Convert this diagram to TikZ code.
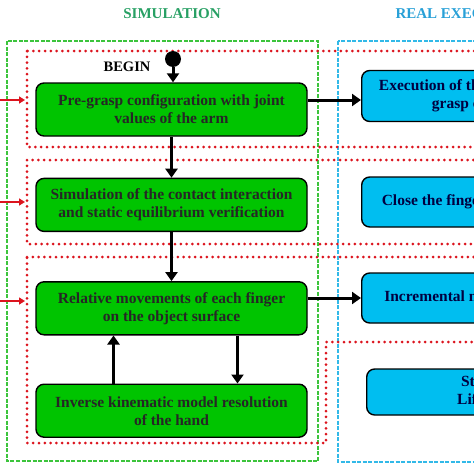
\documentclass[tikz,border=0pt]{standalone}
\usepackage{fontspec}
\setmainfont{Liberation Serif}
\usetikzlibrary{arrows.meta,positioning}
\definecolor{simgreen}{RGB}{0,196,0}
\definecolor{realblue}{RGB}{0,190,240}
\definecolor{simframe}{RGB}{60,196,60}
\definecolor{realframe}{RGB}{50,185,232}
\definecolor{simtitle}{RGB}{40,160,100}
\definecolor{realtitle}{RGB}{40,160,215}
\definecolor{stagered}{RGB}{220,20,30}

\begin{document}
\begin{tikzpicture}[
  x=1pt, y=-1pt,
  node distance=41pt,
  font=\bfseries\fontsize{15.5}{18}\selectfont,
  simbox/.style={
    draw, rounded corners=8pt, fill=simgreen, line width=1.4pt,
    align=center, minimum width=271pt, minimum height=53pt,
    text=black!85, inner sep=2pt
  },
  realbox/.style={
    draw, rounded corners=8pt, fill=realblue, line width=1.4pt,
    align=center, minimum width=271pt, minimum height=51pt,
    text=blue!25!black, inner sep=2pt
  },
  frame/.style={line width=2.4pt, dash pattern=on 4pt off 1.5pt},
  stage/.style={stagered, line width=3pt, line cap=round,
    dash pattern=on 0pt off 5.8pt},
  arrow/.style={-{Triangle[length=9pt,width=12pt]}, line width=3pt},
  inarrow/.style={-{Triangle[length=6pt,width=7pt]}, stagered, line width=1.5pt}
]
\useasboundingbox (0,0) rectangle (474,474);
\clip (0,0) rectangle (474,474);

% titles
\node[text=simtitle, font=\bfseries\fontsize{15}{17}\selectfont] (simtitle) at (172,14) {SIMULATION};
\node[text=realtitle, font=\bfseries\fontsize{15}{17}\selectfont, anchor=west] (realtitle) at (392,14) {REAL EXECUTION};

% frames
\draw[frame, simframe] (7,41) rectangle (318,461);
\draw[frame, realframe] (338,41) rectangle (520,462);

% stages
\draw[stage] (27,51) rectangle (520,147);
\draw[stage] (27,160) rectangle (520,244);
\draw[stage] (27,257) -- (520,257) -- (520,342) -- (326,342) -- (326,443) -- (27,443) -- cycle;

% simulation steps
\node[simbox] (pre) at (171.5,109.5) {Pre-grasp configuration with joint\\values of the arm};
\node[simbox, below=41pt of pre] (sim) {Simulation of the contact interaction\\and static equilibrium verification};
\node[simbox, below=49pt of sim] (rel) {Relative movements of each finger\\on the object surface};
\node[simbox, below=48pt of rel] (ik) {Inverse kinematic model resolution\\of the hand};

\node[circle, fill=black, minimum size=16pt, inner sep=0pt] (start) at (173,59) {};
\node[font=\bfseries\fontsize{14.5}{17}\selectfont] (begin) at (127,67) {BEGIN};

% real execution steps
\node[realbox, anchor=west] (exec) at (361,96) {Execution of the arm and hand pre-\\grasp configuration};
\node[realbox, anchor=west, minimum height=50pt] (close) at (361,202) {Close the fingers around the object};
\node[realbox, anchor=west, minimum height=50pt] (inc) at (361,298) {Incremental movements of fingers};
\node[realbox, anchor=west, minimum height=46pt] (lift) at (366,392) {Stable grasp\\Lifting object};

% input arrows
\coordinate (in1) at (0,100);
\coordinate (in2) at (0,202);
\coordinate (in3) at (0,301);
\draw[inarrow] (in1) -- (25,100);
\draw[inarrow] (in2) -- (25,202);
\draw[inarrow] (in3) -- (25,301);

% flow
\draw[arrow] (start) -- (start |- pre.north);
\draw[arrow] (pre) -- (sim);
\draw[arrow] (sim) -- (rel);
\draw[arrow] ([xshift=-58pt]ik.north) -- ([xshift=-58pt]rel.south);
\draw[arrow] ([xshift=66pt]rel.south) -- ([xshift=66pt]ik.north);
\draw[arrow] (pre.east |- 0,100) -- (exec.west |- 0,100);
\draw[arrow] (rel.east |- inc.west) -- (inc.west);

\end{tikzpicture}
\end{document}
